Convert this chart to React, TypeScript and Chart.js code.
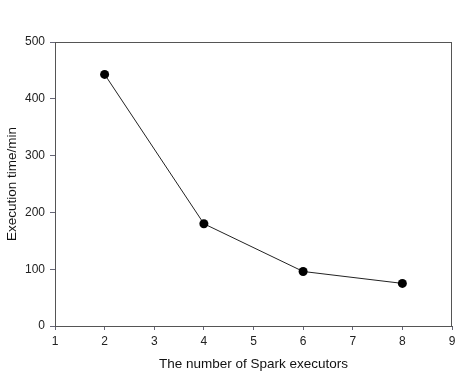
import React, { useEffect, useRef } from "react";
import { Chart, registerables } from "chart.js";

Chart.register(...registerables);

const executors = [2, 4, 6, 8];
const execTime = [443, 180, 96, 75];
const xTitle = "The number of Spark executors";
const yTitle = "Execution time/min";

const framePlugin = {
  id: "frame",
  afterDraw(chart: any) {
    const { ctx, chartArea } = chart;
    ctx.save();
    ctx.strokeStyle = "#555";
    ctx.lineWidth = 1;
    ctx.beginPath();
    ctx.moveTo(chartArea.left, chartArea.top + 0.5);
    ctx.lineTo(chartArea.right, chartArea.top + 0.5);
    ctx.moveTo(chartArea.right - 0.5, chartArea.top);
    ctx.lineTo(chartArea.right - 0.5, chartArea.bottom);
    ctx.stroke();
    ctx.restore();
  },
};

export default function App() {
  const ref = useRef<HTMLCanvasElement>(null);
  useEffect(() => {
    if (!ref.current) return;
    const family = "Liberation Sans, Arial, sans-serif";
    const font = { family, size: 12 };
    const chart = new Chart(ref.current, {
      type: "line",
      data: {
        datasets: [
          {
            data: executors.map((x, i) => ({ x, y: execTime[i] })),
            borderColor: "#222",
            borderWidth: 1,
            pointRadius: 4.5,
            pointBackgroundColor: "#000",
            pointBorderColor: "#000",
            pointBorderWidth: 0,
            tension: 0,
          },
        ],
      },
      options: {
        animation: false,
        responsive: true,
        maintainAspectRatio: false,
        layout: { padding: { top: 42, right: 22, left: 0, bottom: 0 } },
        plugins: { legend: { display: false }, tooltip: { enabled: false } },
        scales: {
          x: {
            type: "linear",
            min: 1,
            max: 9,
            ticks: { stepSize: 1, color: "#222", font, padding: 4 },
            grid: { drawOnChartArea: false, drawTicks: true, tickLength: 4, color: "#667" },
            border: { display: true, color: "#555", width: 1 },
            title: {
              display: true,
              text: xTitle,
              color: "#111",
              font: { family, size: 13.5 },
              padding: { top: 0, bottom: 2.4 },
            },
            afterFit(scale: any) {
              scale.height = 49;
            },
          },
          y: {
            min: 0,
            max: 500,
            ticks: { stepSize: 100, color: "#222", font, padding: 5 },
            grid: { drawOnChartArea: false, drawTicks: true, tickLength: 5, color: "#667" },
            border: { display: true, color: "#555", width: 1 },
            title: {
              display: true,
              text: yTitle,
              color: "#111",
              font: { family, size: 13.5 },
              padding: { top: 4.5, bottom: 0 },
            },
            afterFit(scale: any) {
              scale.width = 55;
            },
          },
        },
      },
      plugins: [framePlugin],
    });
    return () => chart.destroy();
  }, []);
  return (
    <div style={{ position: "absolute", left: 0, top: 0, width: 474, height: 375, background: "#fff" }}>
      <canvas ref={ref} />
    </div>
  );
}
